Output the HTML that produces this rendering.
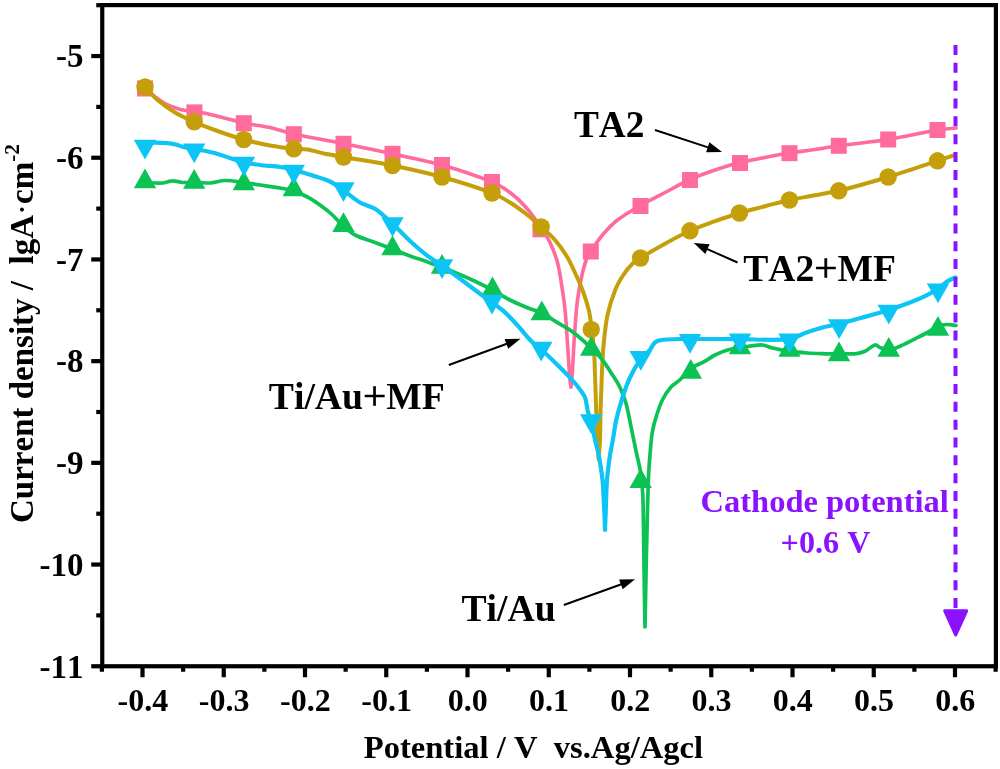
<!DOCTYPE html><html><head><meta charset="utf-8"><title>Polarization curves</title>
<style>html,body{margin:0;padding:0;background:#fff}svg{display:block}text{white-space:pre;font-family:"Liberation Serif","DejaVu Serif",serif;font-weight:bold;font-kerning:none}</style></head><body>
<svg width="1000" height="769" viewBox="0 0 1000 769">
<rect width="1000" height="769" fill="#fff"/>
<g fill="none" stroke-width="4.4" stroke-linejoin="round" stroke-linecap="round">
<path d="M145.0,88.0C147.1,90.0 149.8,92.7 152.0,94.5C154.3,96.4 157.5,98.6 160.0,100.3C162.2,101.7 165.0,103.6 167.3,104.7C169.8,105.9 173.2,107.1 175.8,108.0C178.3,108.8 181.6,109.8 184.2,110.3C187.1,110.8 191.0,110.9 194.0,111.3C198.1,111.9 203.4,112.8 207.5,113.8C218.5,116.3 232.7,120.5 243.8,123.0C251.3,124.7 261.2,125.6 268.8,127.3C276.4,129.0 286.1,132.3 293.8,134.0C308.8,137.3 328.6,140.7 343.8,143.8C358.6,146.7 377.7,150.6 392.5,153.8C407.5,157.0 427.2,160.8 442.0,165.0C457.4,169.4 477.1,176.0 492.0,182.0C497.9,184.4 504.9,188.8 510.0,192.5C515.0,196.2 520.9,201.6 525.0,206.2C530.4,212.3 536.6,220.8 541.2,227.5C544.2,231.8 547.8,237.7 550.0,242.5C552.7,248.4 555.9,256.2 557.5,262.5C559.8,271.3 561.3,283.0 562.7,292.0C563.7,298.2 564.7,306.3 565.3,312.5C566.3,323.9 567.1,338.6 567.9,350.0C568.5,358.5 569.1,369.5 569.8,378.0C570.0,380.8 570.6,384.5 571.0,387.3C571.5,382.1 572.1,375.3 572.5,370.0C573.2,359.4 573.7,345.6 574.5,335.0C575.3,324.4 576.1,310.6 577.5,300.0C578.6,291.6 580.6,280.8 582.5,272.5C583.8,267.1 586.0,260.2 588.0,255.0C588.5,253.7 589.9,252.4 590.8,251.2C594.3,246.3 598.5,239.6 602.5,235.0C606.7,230.1 612.4,223.9 617.5,220.0C624.0,214.9 633.4,209.6 640.5,205.5C647.8,201.3 657.6,196.4 665.0,192.5C672.6,188.5 682.2,183.0 690.0,179.5C697.4,176.2 707.3,172.6 715.0,170.0C722.5,167.5 732.3,164.4 740.0,162.5C747.5,160.6 757.4,159.0 765.0,157.5C772.4,156.1 782.0,154.2 789.5,153.0C797.2,151.8 807.3,150.6 815.0,149.5C822.2,148.4 831.5,146.7 838.8,145.8C853.7,143.7 873.3,141.9 888.2,139.5C903.3,137.1 922.5,132.5 937.5,130.0C943.1,129.1 950.4,128.6 956.0,128.0" stroke="#FF6B9B" stroke-width="3.6"/>
<rect x="137.0" y="80.5" width="16" height="16" fill="#FF6B9B"/><rect x="186.4" y="104.4" width="16" height="16" fill="#FF6B9B"/><rect x="235.8" y="115.2" width="16" height="16" fill="#FF6B9B"/><rect x="285.8" y="126.2" width="16" height="16" fill="#FF6B9B"/><rect x="335.5" y="135.8" width="16" height="16" fill="#FF6B9B"/><rect x="384.5" y="145.8" width="16" height="16" fill="#FF6B9B"/><rect x="434.0" y="157.0" width="16" height="16" fill="#FF6B9B"/><rect x="484.0" y="174.0" width="16" height="16" fill="#FF6B9B"/><rect x="532.5" y="221.3" width="16" height="16" fill="#FF6B9B"/><rect x="582.8" y="243.5" width="16" height="16" fill="#FF6B9B"/><rect x="632.5" y="198.0" width="16" height="16" fill="#FF6B9B"/><rect x="682.0" y="172.0" width="16" height="16" fill="#FF6B9B"/><rect x="732.0" y="155.0" width="16" height="16" fill="#FF6B9B"/><rect x="781.5" y="145.2" width="16" height="16" fill="#FF6B9B"/><rect x="830.8" y="137.8" width="16" height="16" fill="#FF6B9B"/><rect x="880.2" y="131.5" width="16" height="16" fill="#FF6B9B"/><rect x="929.5" y="122.0" width="16" height="16" fill="#FF6B9B"/>
<path d="M145.0,87.0C148.8,90.9 153.3,96.5 157.5,100.0C162.5,104.2 169.4,109.2 175.0,112.5C180.5,115.8 188.1,119.2 194.0,121.8C201.0,124.8 210.3,128.4 217.5,131.0C225.4,133.8 235.7,137.3 243.8,139.5C251.6,141.7 262.0,144.0 270.0,145.5C277.1,146.8 286.5,148.0 293.8,148.8C297.9,149.2 303.4,148.8 307.5,149.5C312.9,150.4 319.7,152.6 325.0,153.8C330.7,154.9 338.1,156.0 343.8,157.0C358.5,159.6 377.8,162.5 392.5,165.5C407.6,168.6 427.1,172.9 442.0,177.0C457.3,181.2 477.1,187.4 492.0,193.0C497.8,195.2 504.8,199.2 510.0,202.5C515.5,205.9 522.4,211.0 527.5,215.0C531.9,218.4 537.2,223.3 541.2,227.0C545.5,230.9 551.3,235.6 555.0,240.0C559.3,244.9 564.1,251.9 567.5,257.5C570.5,262.6 573.5,269.6 576.0,275.0C578.1,279.5 580.8,285.3 582.5,290.0C584.7,296.0 587.2,303.8 588.8,310.0C589.9,314.5 590.6,320.4 591.2,325.0C592.2,332.6 593.4,342.4 594.0,350.0C594.6,357.6 594.7,367.4 595.0,375.0C595.4,386.4 595.9,401.1 596.3,412.5C596.6,420.8 596.8,431.7 597.2,440.0C597.5,445.9 598.2,453.6 598.6,459.5C599.0,453.6 599.8,445.9 600.0,440.0C600.3,431.5 600.3,420.5 600.5,412.0C600.7,405.3 601.1,396.7 601.3,390.0C601.6,382.7 601.8,373.3 602.2,366.0C602.6,358.9 603.1,349.6 603.8,342.5C604.7,334.1 605.7,323.2 607.5,315.0C609.2,307.2 612.3,297.4 615.2,290.0C617.1,285.2 620.5,279.3 623.3,275.0C625.7,271.3 629.4,266.8 632.5,263.8C634.6,261.6 638.0,259.6 640.5,258.0C647.8,253.5 657.5,247.9 665.0,243.8C672.5,239.6 682.2,234.3 690.0,230.8C697.4,227.4 707.4,224.0 715.0,221.2C722.4,218.6 732.0,215.3 739.5,213.0C747.2,210.7 757.3,208.3 765.0,206.2C772.4,204.3 782.0,201.6 789.5,200.0C797.2,198.3 807.3,196.8 815.0,195.3C822.2,193.9 831.6,192.5 838.8,190.8C853.9,187.0 873.3,181.5 888.2,177.0C903.3,172.4 922.6,165.7 937.5,160.8C942.8,159.0 949.7,156.7 955.0,155.0" stroke="#C49F0A" stroke-width="4"/>
<circle cx="145.0" cy="87.0" r="8.7" fill="#C49F0A"/><circle cx="194.2" cy="121.8" r="8.7" fill="#C49F0A"/><circle cx="243.8" cy="139.5" r="8.7" fill="#C49F0A"/><circle cx="293.8" cy="148.8" r="8.7" fill="#C49F0A"/><circle cx="343.5" cy="157.0" r="8.7" fill="#C49F0A"/><circle cx="392.5" cy="165.5" r="8.7" fill="#C49F0A"/><circle cx="442.0" cy="177.0" r="8.7" fill="#C49F0A"/><circle cx="492.0" cy="193.0" r="8.7" fill="#C49F0A"/><circle cx="541.2" cy="227.0" r="8.7" fill="#C49F0A"/><circle cx="591.2" cy="329.5" r="8.7" fill="#C49F0A"/><circle cx="640.5" cy="258.0" r="8.7" fill="#C49F0A"/><circle cx="690.0" cy="230.8" r="8.7" fill="#C49F0A"/><circle cx="739.5" cy="213.0" r="8.7" fill="#C49F0A"/><circle cx="789.5" cy="200.0" r="8.7" fill="#C49F0A"/><circle cx="838.8" cy="190.8" r="8.7" fill="#C49F0A"/><circle cx="888.2" cy="177.0" r="8.7" fill="#C49F0A"/><circle cx="937.5" cy="160.8" r="8.7" fill="#C49F0A"/>
<path d="M145.0,182.5C150.3,182.7 157.2,183.3 162.5,183.0C165.6,182.8 169.4,180.8 172.5,180.8C175.6,180.7 179.4,182.3 182.5,182.5C186.0,182.7 190.5,181.9 194.0,182.0C198.9,182.1 205.1,183.2 210.0,183.0C214.6,182.8 220.4,180.6 225.0,180.5C230.7,180.4 238.1,181.8 243.8,182.5C248.7,183.1 255.1,184.3 260.0,185.0C266.1,185.9 274.0,186.9 280.0,188.0C284.2,188.7 289.7,189.7 293.8,191.0C298.1,192.4 303.5,194.9 307.5,197.0C311.5,199.1 316.3,202.4 320.0,205.0C323.9,207.8 328.9,211.7 332.5,215.0C335.9,218.1 339.6,222.9 343.0,226.0C346.4,229.0 351.0,232.9 355.0,235.0C360.8,238.0 368.9,240.2 375.0,242.5C380.3,244.5 387.2,247.0 392.5,249.0C397.8,251.1 404.6,254.0 410.0,256.0C414.5,257.7 420.5,259.4 425.0,261.0C430.2,262.9 436.8,265.5 442.0,267.5C445.9,269.0 451.1,270.9 455.0,272.5C461.1,275.0 469.0,278.4 475.0,281.2C480.4,283.8 487.3,287.2 492.5,290.0C497.9,292.9 504.5,297.3 510.0,300.0C515.9,303.0 523.8,306.3 530.0,308.8C533.5,310.1 538.4,310.8 541.8,312.5C546.1,314.7 550.9,318.7 555.0,321.2C559.5,324.0 565.6,327.0 570.0,330.0C574.0,332.7 578.8,336.8 582.5,340.0C585.3,342.4 588.7,345.7 591.2,348.2C594.7,351.7 599.4,356.1 602.5,360.0C605.9,364.3 609.6,370.4 612.5,375.0C614.9,378.7 618.1,383.5 620.0,387.5C622.3,392.3 624.8,398.8 626.2,404.0C628.2,411.3 629.8,421.1 631.4,428.6C633.0,436.2 635.0,446.0 636.6,453.6C637.8,459.3 639.7,466.6 640.6,472.3C641.6,479.1 642.5,488.1 642.8,495.0C643.3,505.6 643.3,519.4 643.5,530.0C643.7,545.2 644.0,564.8 644.2,580.0C644.4,594.3 644.8,612.7 645.0,627.0C645.3,612.7 645.6,594.3 645.9,580.0C646.1,568.6 646.4,553.9 646.7,542.5C647.0,531.1 647.3,516.4 647.6,505.0C647.9,495.9 648.2,484.1 648.6,475.0C648.9,468.5 649.5,460.1 650.1,453.6C650.6,447.3 651.2,439.1 652.2,432.8C653.1,427.6 654.8,421.0 656.4,416.0C658.0,410.9 660.2,404.3 662.6,399.5C664.7,395.4 668.0,390.4 671.0,387.0C673.4,384.3 677.7,382.0 680.3,379.5C683.7,376.4 687.0,371.2 690.8,368.5C694.7,365.6 700.8,363.6 705.0,361.2C708.1,359.5 711.8,356.6 715.0,355.0C718.7,353.2 723.6,351.2 727.5,350.0C731.2,348.9 736.2,348.1 740.0,347.5C743.0,347.0 747.0,346.6 750.0,346.2C753.8,345.8 758.7,344.7 762.5,345.0C765.7,345.2 769.4,347.3 772.5,348.0C777.5,349.2 784.1,350.5 789.2,351.2C794.8,352.0 802.0,352.6 807.5,353.0C812.8,353.4 819.7,353.6 825.0,353.8C829.2,353.9 834.6,353.8 838.8,353.8C843.7,353.8 850.1,354.2 855.0,353.8C858.1,353.5 862.1,352.5 865.0,351.2C868.3,349.8 871.5,345.9 875.0,345.0C876.6,344.6 878.4,346.9 880.0,347.5C882.6,348.4 886.0,350.2 888.8,350.0C892.3,349.8 896.7,347.7 900.0,346.2C904.7,344.2 910.5,341.0 915.0,338.8C918.8,336.9 923.8,334.5 927.5,332.5C930.8,330.7 934.6,327.6 938.0,326.2C940.7,325.2 944.6,324.6 947.5,324.5C950.1,324.4 953.4,325.2 956.0,325.5" stroke="#0DC255" stroke-width="3.7"/>
<polygon points="145.0,168.5 133.8,188.3 156.2,188.3" fill="#0DC255"/><polygon points="194.2,169.0 183.1,188.8 205.4,188.8" fill="#0DC255"/><polygon points="243.8,170.5 232.6,190.3 254.9,190.3" fill="#0DC255"/><polygon points="293.8,176.5 282.6,196.3 304.9,196.3" fill="#0DC255"/><polygon points="343.5,212.2 332.3,232.1 354.7,232.1" fill="#0DC255"/><polygon points="392.5,235.5 381.3,255.3 403.7,255.3" fill="#0DC255"/><polygon points="442.0,254.0 430.8,273.8 453.2,273.8" fill="#0DC255"/><polygon points="492.5,276.5 481.3,296.3 503.7,296.3" fill="#0DC255"/><polygon points="541.8,300.5 530.5,320.3 553.0,320.3" fill="#0DC255"/><polygon points="591.2,336.0 580.0,355.8 602.5,355.8" fill="#0DC255"/><polygon points="640.7,468.3 629.5,488.1 651.9,488.1" fill="#0DC255"/><polygon points="690.8,359.0 679.5,378.8 702.0,378.8" fill="#0DC255"/><polygon points="740.0,334.5 728.8,354.3 751.2,354.3" fill="#0DC255"/><polygon points="789.5,337.0 778.3,356.8 800.7,356.8" fill="#0DC255"/><polygon points="839.0,341.5 827.8,361.3 850.2,361.3" fill="#0DC255"/><polygon points="888.8,337.0 877.5,356.8 900.0,356.8" fill="#0DC255"/><polygon points="938.0,316.0 926.8,335.8 949.2,335.8" fill="#0DC255"/>
<path d="M145.0,143.0C148.2,142.9 152.3,142.6 155.5,142.6C159.1,142.6 163.7,142.8 167.3,143.1C169.9,143.3 173.3,143.9 175.8,144.5C178.4,145.1 181.6,146.7 184.2,147.3C187.1,148.0 191.0,148.5 194.0,149.0C199.6,150.0 207.0,151.1 212.5,152.5C217.9,153.8 224.7,156.3 230.0,158.0C234.3,159.3 239.7,161.5 244.0,162.5C248.8,163.6 255.1,164.4 260.0,165.0C266.0,165.8 274.0,166.1 280.0,167.0C284.2,167.6 289.6,168.9 293.8,170.0C299.5,171.5 306.9,173.7 312.5,175.5C317.8,177.2 324.9,179.1 330.0,181.5C334.3,183.5 339.1,187.3 343.0,190.0C348.2,193.7 354.5,199.3 360.0,202.5C364.3,205.0 370.9,206.1 375.0,208.8C380.9,212.6 387.4,219.0 392.5,223.8C398.0,228.8 404.5,235.9 410.0,241.0C414.4,245.1 420.3,250.1 425.0,253.8C430.0,257.7 436.8,262.3 442.0,266.0C445.9,268.8 451.1,272.2 455.0,275.0C461.1,279.5 468.9,285.5 475.0,290.0C480.1,293.8 486.9,298.7 492.0,302.5C496.0,305.4 501.3,309.1 505.0,312.3C507.6,314.6 510.6,318.0 513.0,320.5C515.4,323.0 518.4,326.4 520.7,329.0C523.3,332.0 526.5,336.1 529.2,339.0C530.8,340.8 533.2,342.9 535.0,344.5C536.8,346.1 539.4,347.9 541.2,349.5C545.5,353.3 550.9,358.5 555.0,362.5C558.8,366.2 563.8,371.1 567.5,375.0C570.6,378.3 574.7,382.6 577.5,386.2C580.0,389.5 583.4,393.7 585.0,397.5C586.5,401.1 586.6,406.2 587.5,410.0C588.5,413.8 590.3,418.7 591.2,422.5C592.7,428.4 594.1,436.1 595.5,442.0C596.4,446.0 598.0,451.0 598.8,455.0C600.1,462.5 601.7,472.4 602.5,480.0C603.4,489.1 603.8,500.9 604.2,510.0C604.6,516.1 604.8,523.9 605.0,530.0C605.2,523.9 605.5,516.1 605.8,510.0C606.1,500.9 606.3,489.1 607.0,480.0C607.6,472.4 608.9,462.6 610.0,455.0C610.6,451.0 611.8,446.0 612.5,442.0C613.7,435.3 614.8,426.6 616.2,420.0C617.8,413.1 620.3,404.2 622.5,397.5C624.5,391.3 627.2,383.4 630.0,377.5C632.8,371.6 637.1,364.2 640.8,358.8C641.8,357.1 644.1,355.7 645.5,354.3C647.0,352.9 648.9,351.1 650.2,349.5C651.3,348.0 652.3,345.8 653.4,344.3C654.1,343.4 655.2,342.2 656.2,341.6C657.2,341.0 658.8,340.4 660.0,340.2C662.2,339.8 665.0,339.6 667.2,339.5C671.1,339.3 676.1,339.1 680.0,339.0C683.0,338.9 687.0,338.7 690.0,338.8C705.2,338.8 724.8,339.2 740.0,339.2C755.0,339.3 774.6,340.7 789.5,339.2C794.5,338.8 800.2,334.7 805.0,333.0C810.2,331.1 817.1,329.0 822.5,327.5C827.5,326.1 834.2,325.0 839.2,323.8C846.3,322.0 855.5,319.5 862.5,317.5C870.5,315.3 880.9,312.5 888.8,310.0C895.3,307.9 903.6,304.9 910.0,302.5C914.6,300.8 920.6,298.4 925.0,296.2C929.1,294.2 934.2,291.3 938.0,288.8C941.1,286.7 944.4,283.2 947.5,281.2C949.8,279.8 953.1,278.6 955.5,277.5" stroke="#0CC5F5" stroke-width="4.2"/>
<polygon points="145.0,159.5 133.8,139.7 156.2,139.7" fill="#0CC5F5"/><polygon points="194.2,163.2 183.1,143.4 205.4,143.4" fill="#0CC5F5"/><polygon points="244.0,176.5 232.8,156.7 255.2,156.7" fill="#0CC5F5"/><polygon points="293.8,184.5 282.6,164.7 304.9,164.7" fill="#0CC5F5"/><polygon points="343.5,202.0 332.3,182.2 354.7,182.2" fill="#0CC5F5"/><polygon points="392.5,237.0 381.3,217.2 403.7,217.2" fill="#0CC5F5"/><polygon points="442.0,279.0 430.8,259.2 453.2,259.2" fill="#0CC5F5"/><polygon points="492.0,314.5 480.8,294.7 503.2,294.7" fill="#0CC5F5"/><polygon points="541.2,361.5 530.0,341.7 552.5,341.7" fill="#0CC5F5"/><polygon points="591.2,434.0 580.0,414.2 602.5,414.2" fill="#0CC5F5"/><polygon points="640.8,370.8 629.5,350.9 652.0,350.9" fill="#0CC5F5"/><polygon points="690.0,353.8 678.8,333.9 701.2,333.9" fill="#0CC5F5"/><polygon points="740.0,353.2 728.8,333.4 751.2,333.4" fill="#0CC5F5"/><polygon points="789.5,353.2 778.3,333.4 800.7,333.4" fill="#0CC5F5"/><polygon points="839.2,339.0 828.0,319.2 850.5,319.2" fill="#0CC5F5"/><polygon points="888.8,324.5 877.5,304.7 900.0,304.7" fill="#0CC5F5"/><polygon points="938.0,303.2 926.8,283.4 949.2,283.4" fill="#0CC5F5"/>
</g>
<line x1="955.5" y1="45" x2="955.5" y2="612" stroke="#8A12FF" stroke-width="4" stroke-dasharray="10 7.84"/>
<polygon points="944.8,610.8 966.6,610.8 955.7,634.8" fill="#8A12FF" stroke="#8A12FF" stroke-width="3.2" stroke-linejoin="round"/>
<rect x="102.25" y="5.1" width="893.65" height="661.15" fill="none" stroke="#000" stroke-width="4.2"/>
<g stroke="#000" stroke-width="4.2"><line x1="142.50" y1="666.25" x2="142.50" y2="677.25"/><line x1="223.75" y1="666.25" x2="223.75" y2="677.25"/><line x1="305.00" y1="666.25" x2="305.00" y2="677.25"/><line x1="386.25" y1="666.25" x2="386.25" y2="677.25"/><line x1="467.50" y1="666.25" x2="467.50" y2="677.25"/><line x1="548.75" y1="666.25" x2="548.75" y2="677.25"/><line x1="630.00" y1="666.25" x2="630.00" y2="677.25"/><line x1="711.25" y1="666.25" x2="711.25" y2="677.25"/><line x1="792.50" y1="666.25" x2="792.50" y2="677.25"/><line x1="873.75" y1="666.25" x2="873.75" y2="677.25"/><line x1="955.00" y1="666.25" x2="955.00" y2="677.25"/><line x1="101.88" y1="666.25" x2="101.88" y2="671.75"/><line x1="183.13" y1="666.25" x2="183.13" y2="671.75"/><line x1="264.38" y1="666.25" x2="264.38" y2="671.75"/><line x1="345.63" y1="666.25" x2="345.63" y2="671.75"/><line x1="426.88" y1="666.25" x2="426.88" y2="671.75"/><line x1="508.12" y1="666.25" x2="508.12" y2="671.75"/><line x1="589.38" y1="666.25" x2="589.38" y2="671.75"/><line x1="670.63" y1="666.25" x2="670.63" y2="671.75"/><line x1="751.88" y1="666.25" x2="751.88" y2="671.75"/><line x1="833.13" y1="666.25" x2="833.13" y2="671.75"/><line x1="914.38" y1="666.25" x2="914.38" y2="671.75"/><line x1="995.63" y1="666.25" x2="995.63" y2="671.75"/><line x1="102.25" y1="666.25" x2="91.25" y2="666.25"/><line x1="102.25" y1="564.55" x2="91.25" y2="564.55"/><line x1="102.25" y1="462.85" x2="91.25" y2="462.85"/><line x1="102.25" y1="361.15" x2="91.25" y2="361.15"/><line x1="102.25" y1="259.45" x2="91.25" y2="259.45"/><line x1="102.25" y1="157.75" x2="91.25" y2="157.75"/><line x1="102.25" y1="56.05" x2="91.25" y2="56.05"/><line x1="102.25" y1="615.40" x2="96.25" y2="615.40"/><line x1="102.25" y1="513.70" x2="96.25" y2="513.70"/><line x1="102.25" y1="412.00" x2="96.25" y2="412.00"/><line x1="102.25" y1="310.30" x2="96.25" y2="310.30"/><line x1="102.25" y1="208.60" x2="96.25" y2="208.60"/><line x1="102.25" y1="106.90" x2="96.25" y2="106.90"/><line x1="102.25" y1="5.20" x2="96.25" y2="5.20"/></g>
<g font-size="31.5px" fill="#000"><text x="142.8" y="711" font-size="32px" text-anchor="middle">-0.4</text><text x="224.1" y="711" font-size="32px" text-anchor="middle">-0.3</text><text x="305.3" y="711" font-size="32px" text-anchor="middle">-0.2</text><text x="386.6" y="711" font-size="32px" text-anchor="middle">-0.1</text><text x="467.8" y="711" font-size="32px" text-anchor="middle">0.0</text><text x="549.0" y="711" font-size="32px" text-anchor="middle">0.1</text><text x="630.3" y="711" font-size="32px" text-anchor="middle">0.2</text><text x="711.5" y="711" font-size="32px" text-anchor="middle">0.3</text><text x="792.8" y="711" font-size="32px" text-anchor="middle">0.4</text><text x="874.0" y="711" font-size="32px" text-anchor="middle">0.5</text><text x="955.3" y="711" font-size="32px" text-anchor="middle">0.6</text><text x="83.5" y="677.5" font-size="33px" text-anchor="end">-11</text><text x="83.5" y="575.8" font-size="33px" text-anchor="end">-10</text><text x="83.5" y="474.1" font-size="33px" text-anchor="end">-9</text><text x="83.5" y="372.3" font-size="33px" text-anchor="end">-8</text><text x="83.5" y="270.6" font-size="33px" text-anchor="end">-7</text><text x="83.5" y="168.9" font-size="33px" text-anchor="end">-6</text><text x="83.5" y="67.2" font-size="33px" text-anchor="end">-5</text></g>
<text x="533.4" y="758" font-size="32.6px" text-anchor="middle" fill="#000" xml:space="preserve">Potential / V  vs.Ag/Agcl</text>
<text transform="translate(32.8,523) rotate(-90)" font-size="33px" fill="#000" xml:space="preserve">Current density /  lgA<tspan font-weight="normal">·</tspan>cm<tspan font-size="21.5px" dy="-14.2">-2</tspan></text>
<g font-size="37.5px" fill="#000" lengthAdjust="spacingAndGlyphs">
<text x="573.9" y="136.6" textLength="70.5" lengthAdjust="spacingAndGlyphs">TA2</text>
<text x="743.3" y="281.4" textLength="152.6" lengthAdjust="spacingAndGlyphs">TA2<tspan font-weight="normal" font-size="41px" stroke="#000" stroke-width="0.7">+</tspan>MF</text>
<text x="268.8" y="409" textLength="176.1" lengthAdjust="spacingAndGlyphs">Ti/Au<tspan font-weight="normal" font-size="41px" stroke="#000" stroke-width="0.7">+</tspan>MF</text>
<text x="461.5" y="621.3" textLength="94.2" lengthAdjust="spacingAndGlyphs">Ti/Au</text>
</g>
<g font-size="32.5px" fill="#8A12FF" text-anchor="middle"><text x="824.7" y="512">Cathode potential</text><text x="825.5" y="552.6" font-size="32.2px">+0.6 V</text></g>
<line x1="655.0" y1="130.0" x2="709.6" y2="147.9" stroke="#000" stroke-width="2.0"/><polygon points="722.0,152.0 706.1,152.3 709.4,142.3" fill="#000"/>
<line x1="737.5" y1="262.5" x2="705.6" y2="248.3" stroke="#000" stroke-width="2.0"/><polygon points="693.8,243.0 709.6,244.3 705.3,253.9" fill="#000"/>
<line x1="448.8" y1="365.0" x2="508.3" y2="343.2" stroke="#000" stroke-width="2.0"/><polygon points="520.5,338.8 508.2,348.8 504.6,339.0" fill="#000"/>
<line x1="563.8" y1="605.0" x2="622.8" y2="583.7" stroke="#000" stroke-width="2.0"/><polygon points="635.0,579.2 622.7,589.3 619.1,579.4" fill="#000"/>
</svg></body></html>
